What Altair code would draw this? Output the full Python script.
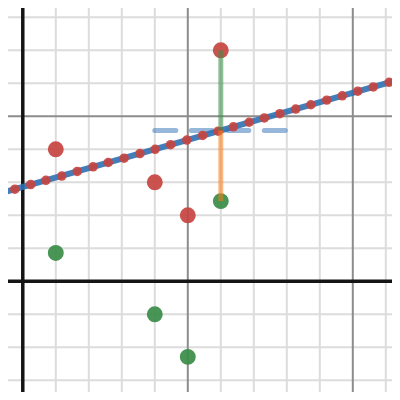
import altair as alt
import pandas as pd

# --- data ---
pts_x = [1, 4, 5, 6]
pts_y = [4, 3, 2, 7]
res_y = [0.86, -1.0, -2.29, 2.43]

line_x = [-0.69, 11.43]
line_y = [2.66, 6.12]

dot_x = [-0.69, -0.24, 0.24, 0.70, 1.18, 1.65, 2.13, 2.59, 3.07, 3.55, 4.01, 4.48, 4.97,
         5.45, 5.92, 6.38, 6.86, 7.32, 7.79, 8.27, 8.73, 9.21, 9.68, 10.15, 10.62, 11.10]
dot_y = [2.66, 2.79, 2.93, 3.06, 3.19, 3.33, 3.47, 3.60, 3.73, 3.87, 4.00, 4.14, 4.28,
         4.42, 4.55, 4.68, 4.82, 4.95, 5.08, 5.22, 5.35, 5.49, 5.62, 5.76, 5.89, 6.03]

mean_y = 4.57
dash_x = [4, 8]
seg_x = 6
red_top = 7
green_bottom = 2.43

minor_x = [1, 2, 3, 4, 6, 7, 8, 9, 11]
major_x = [5, 10]
minor_y = [-3, -2, -1, 1, 2, 3, 4, 6, 7, 8]
major_y = [5]

XD = [-0.448, 11.188]
YD = [-3.355, 8.282]
xs = alt.Scale(domain=XD, nice=False, zero=False)
ys = alt.Scale(domain=YD, nice=False, zero=False)

def vrules(vals, color, width):
    return alt.Chart(pd.DataFrame({"x": vals})).mark_rule(color=color, strokeWidth=width).encode(
        x=alt.X("x:Q", scale=xs, axis=None))

def hrules(vals, color, width):
    return alt.Chart(pd.DataFrame({"y": vals})).mark_rule(color=color, strokeWidth=width).encode(
        y=alt.Y("y:Q", scale=ys, axis=None))

grid = (vrules(minor_x, "#dcdcdc", 2) + hrules(minor_y, "#dcdcdc", 2)
        + vrules(major_x, "#8c8c8c", 2) + hrules(major_y, "#8c8c8c", 2)
        + vrules([0], "#151515", 3.5) + hrules([0], "#151515", 3.5))

fit = alt.Chart(pd.DataFrame({"x": line_x, "y": line_y})).mark_line(
    color="#2d70b3", strokeWidth=6, opacity=0.9, clip=True).encode(
    x=alt.X("x:Q", scale=xs, axis=None), y=alt.Y("y:Q", scale=ys, axis=None))

dash = alt.Chart(pd.DataFrame({"x": [dash_x[0]], "x2": [dash_x[1]], "y": [mean_y]})).mark_rule(
    color="#2d70b3", opacity=0.5, strokeWidth=5, strokeDash=[21, 15.5], strokeCap="round").encode(
    x=alt.X("x:Q", scale=xs, axis=None), x2="x2:Q", y=alt.Y("y:Q", scale=ys, axis=None))

dots = alt.Chart(pd.DataFrame({"x": dot_x, "y": dot_y})).mark_circle(
    color="#c74440", size=90, opacity=0.92, clip=True).encode(
    x=alt.X("x:Q", scale=xs, axis=None), y=alt.Y("y:Q", scale=ys, axis=None))

red = alt.Chart(pd.DataFrame({"x": pts_x, "y": pts_y})).mark_circle(
    color="#c74440", size=254, opacity=0.92).encode(
    x=alt.X("x:Q", scale=xs, axis=None), y=alt.Y("y:Q", scale=ys, axis=None))

green = alt.Chart(pd.DataFrame({"x": pts_x, "y": res_y})).mark_circle(
    color="#388c46", size=254, opacity=0.92).encode(
    x=alt.X("x:Q", scale=xs, axis=None), y=alt.Y("y:Q", scale=ys, axis=None))

seg_g = alt.Chart(pd.DataFrame({"x": [seg_x], "y": [red_top], "y2": [mean_y]})).mark_rule(
    color="#388c46", opacity=0.55, strokeWidth=5).encode(
    x=alt.X("x:Q", scale=xs, axis=None), y=alt.Y("y:Q", scale=ys, axis=None), y2="y2:Q")

seg_o = alt.Chart(pd.DataFrame({"x": [seg_x], "y": [mean_y], "y2": [green_bottom]})).mark_rule(
    color="#fa7e19", opacity=0.55, strokeWidth=5).encode(
    x=alt.X("x:Q", scale=xs, axis=None), y=alt.Y("y:Q", scale=ys, axis=None), y2="y2:Q")

chart = alt.layer(grid, fit, dash, dots, red, green, seg_g, seg_o).properties(
    width=384, height=384, padding=0,
    autosize=alt.AutoSizeParams(type="none"),
).configure_view(stroke=None)

chart.save("out.html", embed_options={"renderer": "svg", "actions": False})
